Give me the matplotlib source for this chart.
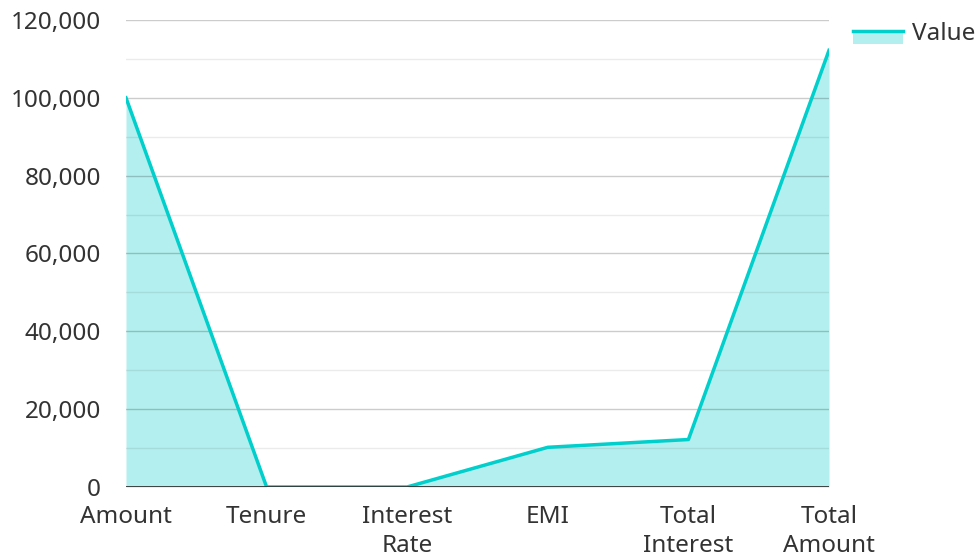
import matplotlib.pyplot as plt
from matplotlib.legend_handler import HandlerBase
from matplotlib.lines import Line2D
from matplotlib.patches import Rectangle
from matplotlib.ticker import FuncFormatter, MultipleLocator

plt.rcParams["font.family"] = ["Noto Sans", "DejaVu Sans"]

categories = ["Amount", "Tenure", "Interest\nRate", "EMI", "Total\nInterest", "Total\nAmount"]
values = [100000, 12, 10, 10200, 12200, 112200]

LINE = "#00cfcc"
FILL = "#b2efee"
TXT = "#333333"


class AreaHandler(HandlerBase):
    # line on top edge, pale fill below it
    def create_artists(self, legend, orig, xd, yd, w, h, fs, trans):
        x0, ymid = -xd, -yd + h / 2
        rect = Rectangle((x0, ymid - 9), w, 9, facecolor=FILL, edgecolor="none", transform=trans)
        ln = Line2D([x0, x0 + w], [ymid, ymid], color=LINE, linewidth=2.5, transform=trans)
        return [rect, ln]


W, H = 978, 558
fig = plt.figure(figsize=(W / 100, H / 100), dpi=100)
ax = fig.add_axes([126 / W, 1 - 487 / H, (829 - 126) / W, (487 - 20) / H])

x = list(range(len(categories)))
ax.fill_between(x, values, 0, color=FILL, linewidth=0, zorder=1)
area, = ax.plot(x, values, color=LINE, linewidth=2.5, zorder=4)

ax.set_xlim(0, len(categories) - 1)
ax.set_ylim(0, 120000)
ax.yaxis.set_major_locator(MultipleLocator(20000))
ax.yaxis.set_minor_locator(MultipleLocator(10000))
ax.yaxis.set_major_formatter(FuncFormatter(lambda v, p: f"{int(v):,}"))
ax.grid(axis="y", which="major", color="#000000", alpha=0.2, linewidth=1, zorder=2)
ax.grid(axis="y", which="minor", color="#000000", alpha=0.08, linewidth=1, zorder=2)
ax.axhline(0, color=TXT, linewidth=2, zorder=5)

ax.set_xticks(x)
ax.set_xticklabels(categories, linespacing=1.27)
ax.tick_params(axis="both", which="both", length=0, labelsize=17.5, colors=TXT)
ax.tick_params(axis="x", pad=13)
ax.tick_params(axis="y", pad=18)
for s in ax.spines.values():
    s.set_visible(False)

leg = fig.legend([area], ["Value"], handler_map={area: AreaHandler()}, loc="upper left",
                 bbox_to_anchor=(853 / W, 1 - 22 / H), frameon=False, fontsize=17.5,
                 borderpad=0, borderaxespad=0, handlelength=2.06, handleheight=0.7,
                 handletextpad=0.37)
for t in leg.get_texts():
    t.set_color(TXT)

fig.savefig("out.png", dpi=100)
